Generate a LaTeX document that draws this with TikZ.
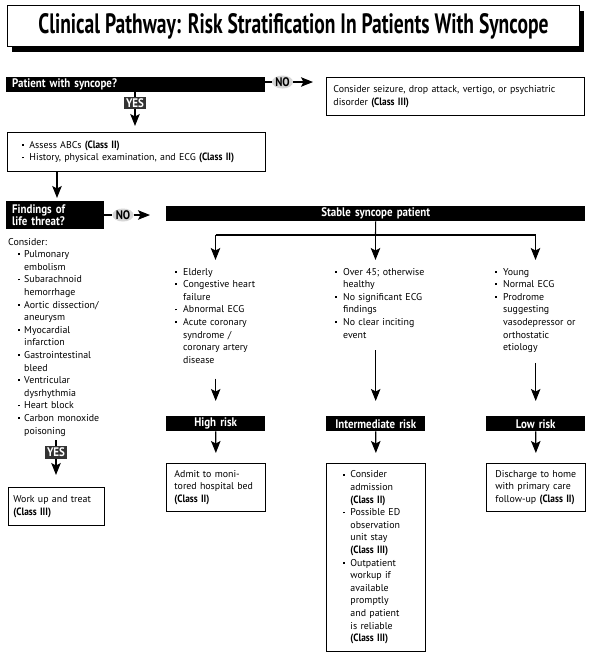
\documentclass[tikz,border=0pt]{standalone}
\usepackage{fontspec}
\usepackage{graphicx}
\setmainfont{PT Sans}
\newfontfamily\condb[FakeStretch=0.88]{PT Sans}
\usetikzlibrary{arrows.meta,shapes.geometric,calc}
\newlength\bw
\setlength\bw{7pt}
\newcommand\bu{\makebox[\bw][l]{\raisebox{2.4pt}{\rule{1.8pt}{1.8pt}}}}
\newcommand\ii{\hspace*{\bw}}
\newcommand\lb{\hspace*{10pt}\bu}
\newcommand\li{\hspace*{10pt}\ii}
\newcommand\cls[1]{{\condb\bfseries\fontsize{10.6}{12.6}\selectfont(#1)}}
\newcommand\bodyfont{\fontsize{9.9}{12.6}\selectfont}
\newcommand\barfont{\condb\bfseries\fontsize{12.4}{12}\selectfont}
\begin{document}
\begin{tikzpicture}[x=1pt,y=-1pt,
 arr/.style={-{Stealth[length=12pt,width=9.5pt,inset=2.5pt]},line width=1.1pt},
 ln/.style={line width=1.1pt},
 bar/.style={fill=black,text=white,font=\barfont,inner ysep=0pt,minimum height=15pt,anchor=north west,align=left},
 box/.style={draw,line width=0.9pt,anchor=north west,font=\bodyfont,inner ysep=0pt,align=left},
 nolab/.style={ellipse,fill=black!16,font=\barfont,inner sep=0pt,minimum width=21pt,minimum height=13pt},
 yeslab/.style={fill=black!80,text=white,font=\barfont,inner sep=0pt,minimum width=22pt,minimum height=12.5pt},
 lst/.style={font=\bodyfont,inner sep=0pt,anchor=base west,align=left}]
\useasboundingbox (0,0) rectangle (596,657);
\fill[white] (0,0) rectangle (596,657);
% title
\fill (12,11) rectangle (584,52);
\node[draw,fill=white,line width=0.9pt,anchor=north west,minimum width=572pt,minimum height=41pt,inner sep=0pt] (title) at (7,5)
 {\resizebox{510pt}{20pt}{\bfseries Clinical Pathway: Risk Stratification In Patients With Syncope}};
% patient with syncope
\node[bar,minimum width=259pt,text width=247pt,inner xsep=6pt] (pat) at (6,77) {Patient with syncope?};
\node[nolab] (no1) at (282.5,82) {NO};
\node[box,minimum width=258pt,minimum height=38pt,text width=244pt,inner xsep=7pt] (cons) at (326,77)
 {Consider seizure, drop attack, vertigo, or psychiatric\\disorder \cls{Class III}};
\draw[ln] (pat.east |- no1) -- (no1.west);
\draw[arr,shorten >=13pt] (no1.east) -- (cons.west |- no1);
\node[yeslab] (yes1) at (135,103) {YES};
\draw[ln] (pat.south -| yes1) -- (yes1.north);
\node[box,minimum width=258pt,minimum height=39pt,text width=228pt,inner xsep=15pt] (abc) at (7,132)
 {\bu Assess ABCs \cls{Class II}\\\bu History, physical examination, and ECG \cls{Class II}};
\draw[arr,shorten >=6pt] (yes1.south) -- (abc.north -| yes1);
% findings
\node[bar,minimum width=98pt,minimum height=28pt,text width=86pt,inner xsep=6pt] (find) at (6,201) {Findings of\\life threat?};
\draw[arr,shorten >=3pt] ([xshift=50pt]abc.south west) -- ([xshift=51pt]find.north west);
\node[nolab] (no2) at (123,215) {NO};
\node[bar,minimum width=419pt,text width=419pt,inner xsep=0pt,align=center] (stab) at (166,206) {Stable syncope patient};
\draw[ln] (find.east |- no2) -- (no2.west);
\draw[arr,shorten >=16pt] (no2.east) -- (stab.west |- no2);
% risk bars
\node[bar,minimum width=99pt,text width=99pt,inner xsep=0pt,align=center] (hr) at (166,416) {High risk};
\node[bar,minimum width=99pt,text width=99pt,inner xsep=0pt,align=center] (ir) at (326,416) {Intermediate risk};
\node[bar,minimum width=99pt,text width=99pt,inner xsep=0pt,align=center] (lr) at (486,416) {Low risk};
% branch
\coordinate (j) at (375.5,235);
\coordinate (t1) at (215.5,260);
\coordinate (t2) at (375.5,260);
\coordinate (t3) at (535.5,260);
\draw[ln] (stab.south) -- (j);
\draw[ln] (j -| t1) -- (j -| t3);
\draw[arr] (j -| t1) -- (t1);
\draw[arr] (j) -- (t2);
\draw[arr] (j -| t3) -- (t3);
% lists
\setlength\bw{8pt}
\node[lst,text width=90pt] (L1) at (175,275)
 {\bu Elderly\\\bu Congestive heart\\\ii failure\\\bu Abnormal ECG\\\bu Acute coronary\\\ii syndrome /\\\ii coronary artery\\\ii disease};
\node[lst,text width=90pt] (M1) at (335,275)
 {\bu Over 45; otherwise\\\ii healthy\\\bu No significant ECG\\\ii findings\\\bu No clear inciting\\\ii event};
\node[lst,text width=90pt] (R1) at (495,275)
 {\bu Young\\\bu Normal ECG\\\bu Prodrome\\\ii suggesting\\\ii vasodepressor or\\\ii orthostatic\\\ii etiology};
\draw[arr,shorten <=15pt,shorten >=15pt] (L1.south -| hr.north) -- (hr.north);
\draw[arr,shorten <=12pt,shorten >=15pt] (M1.south -| ir.north) -- (ir.north);
\draw[arr,shorten <=10pt,shorten >=15pt] (R1.south -| lr.north) -- (lr.north);
% outcome boxes
\node[box,minimum width=99pt,minimum height=48pt,text width=83pt,inner xsep=8pt] (hb) at (166,463)
 {Admit to moni-\\tored hospital bed\\\cls{Class II}};
\setlength\bw{7pt}
\node[box,minimum width=99pt,minimum height=188pt,text width=65pt,inner xsep=17pt] (ib) at (326,463)
 {\bu Consider\\\ii admission\\\ii \cls{Class II}\\\bu Possible ED\\\ii observation\\\ii unit stay\\\ii \cls{Class III}\\\bu Outpatient\\\ii workup if\\\ii available\\\ii promptly\\\ii and patient\\\ii is reliable\\\ii \cls{Class III}};
\node[box,minimum width=99pt,minimum height=48pt,text width=81pt,inner xsep=9pt] (lb) at (486,463)
 {Discharge to home\\with primary care\\follow-up \cls{Class II}};
\draw[arr,shorten >=10pt] (hr.south) -- (hb.north);
\draw[arr,shorten >=10pt] (ir.south) -- (ib.north);
\draw[arr,shorten >=10pt] (lr.south) -- (lb.north);
% left column
\setlength\bw{6pt}
\node[lst,text width=110pt] (LL) at (8,245)
 {Consider:\\\lb Pulmonary\\\li embolism\\\lb Subarachnoid\\\li hemorrhage\\\lb Aortic dissection/\\\li aneurysm\\\lb Myocardial\\\li infarction\\\lb Gastrointestinal\\\li bleed\\\lb Ventricular\\\li dysrhythmia\\\lb Heart block\\\lb Carbon monoxide\\\li poisoning};
\node[yeslab] (yes2) at (56,452.5) {YES};
\draw[ln,shorten <=4pt] (LL.south -| yes2) -- (yes2.north);
\node[box,minimum width=96pt,minimum height=38pt,text width=86pt,inner xsep=5pt] (wb) at (8,487)
 {Work up and treat\\\cls{Class III}};
\draw[arr,shorten >=12pt] (yes2.south) -- (wb.north -| yes2);
\end{tikzpicture}
\end{document}
